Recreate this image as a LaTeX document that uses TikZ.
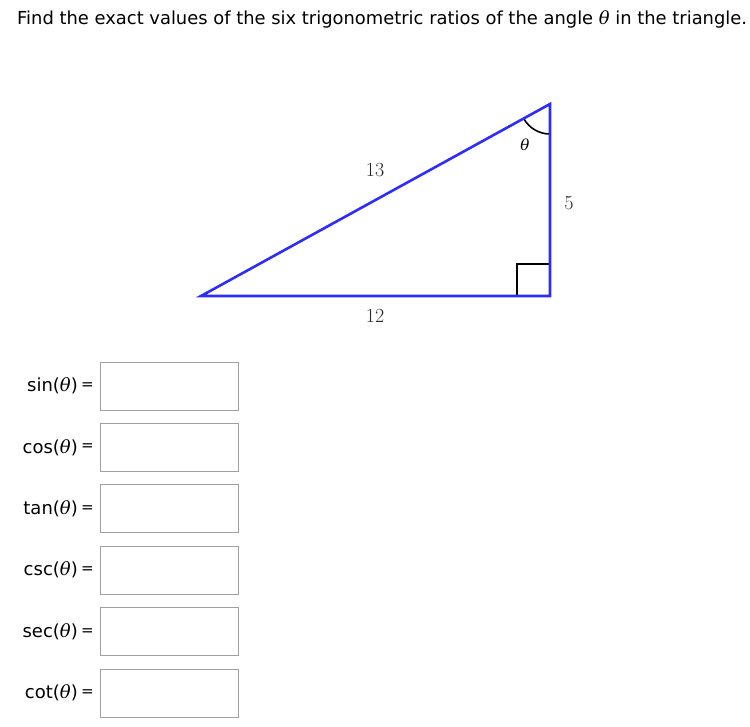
\documentclass[tikz,border=0pt]{standalone}
\usepackage{fontspec}
\setmainfont{DejaVu Sans}
\newfontfamily\numfont{Latin Modern Roman}
\newfontfamily\thetafont{DejaVu Serif}
\newcommand{\thet}{{\thetafont\itshape θ}}
\usetikzlibrary{calc}
\definecolor{triblue}{RGB}{45,45,250}
\definecolor{boxgray}{RGB}{160,160,160}
\tikzset{
  side/.style={draw=triblue, line width=2.6pt, line join=miter},
  anglemark/.style={draw=black, line width=1.6pt},
  sidelabel/.style={font=\fontsize{20}{20}\numfont, text=black!85},
  ratiolabel/.style={font=\fontsize{18}{18}\selectfont, anchor=east, inner sep=0pt},
  answerbox/.style={draw=boxgray, line width=1pt, fill=white}
}
\begin{document}
\begin{tikzpicture}[x=1pt, y=-1pt]
  \useasboundingbox (0,0) rectangle (750,726);
  % question
  \node[anchor=west, inner sep=0pt, font=\fontsize{17.9}{18}\selectfont] (title) at (17,19)
    {Find the exact values of the six trigonometric ratios of the angle \thet{} in the triangle.};
  % triangle
  \coordinate (A) at (201,296);
  \coordinate (B) at (550,296);
  \coordinate (C) at (550,104);
  \draw[anglemark] (517,296) -- (517,264) -- (550,264);
  \draw[anglemark] ($(C)!30pt!(A)$) arc[start angle=151.2, end angle=90, radius=30];
  \draw[side] (A) -- (B) -- (C) -- cycle;
  \node[sidelabel] (hyp) at (375,170) {13};
  \node[sidelabel] (opp) at (569,203) {5};
  \node[sidelabel] (adj) at (375,316) {12};
  \node[font=\fontsize{15}{15}\selectfont] (theta) at (525,145) {\thet};
  % answer rows
  \foreach \fn [count=\i] in {sin,cos,tan,csc,sec,cot} {
    \pgfmathsetmacro{\yy}{386+61.4*(\i-1)}
    \node[ratiolabel] (lab\i) at (78,\yy) {\fn(\thet)};
    \node[inner sep=0pt, font=\fontsize{15}{15}\selectfont] (eq\i) at (87.5,\yy) {=};
    \draw[answerbox] (100,\yy-24) rectangle (238,\yy+24);
  }
\end{tikzpicture}
\end{document}
